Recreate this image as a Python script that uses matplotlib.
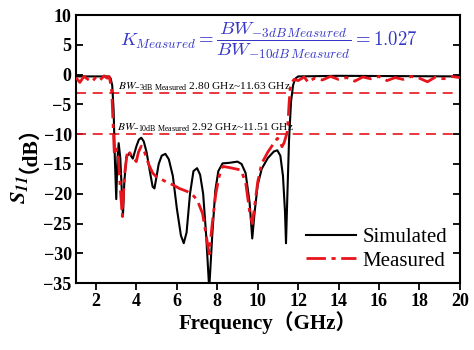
import numpy as np
import matplotlib
matplotlib.use("Agg")
import matplotlib.pyplot as plt

# ---- data ----
sim_f = [1.0, 2.0, 2.6, 2.72, 2.8, 2.87, 2.93, 3.0, 3.06, 3.12, 3.2, 3.28, 3.33, 3.4, 3.5,
         3.65, 3.82, 4.0, 4.12, 4.24, 4.36, 4.5, 4.65, 4.8, 4.89, 5.0, 5.1, 5.25, 5.43, 5.6,
         5.8, 6.0, 6.2, 6.34, 6.48, 6.65, 6.82, 7.0, 7.15, 7.3, 7.45, 7.6, 7.75, 7.9, 8.05,
         8.26, 8.6, 9.0, 9.2, 9.4, 9.6, 9.73, 9.85, 10.0, 10.2, 10.5, 10.8, 10.97, 11.12,
         11.25, 11.35, 11.4, 11.47, 11.55, 11.65, 11.75, 11.85, 12.0, 14.0, 20.0]
sim_db = [-0.3, -0.3, -0.3, -0.6, -1.8, -6.0, -14.0, -20.9, -14.0, -11.5, -14.0, -20.0,
          -23.8, -18.0, -13.8, -13.2, -14.1, -12.0, -10.9, -10.6, -11.2, -13.0, -16.0, -18.8,
          -19.1, -17.0, -15.0, -13.6, -13.3, -14.2, -17.0, -22.5, -27.0, -28.3, -26.5, -20.0,
          -16.2, -15.7, -16.8, -20.0, -27.0, -36.0, -27.0, -19.5, -16.2, -14.9, -14.8, -14.6,
          -15.0, -16.5, -21.5, -27.5, -23.0, -18.5, -15.8, -14.0, -12.9, -12.7, -13.6, -17.0,
          -23.0, -28.3, -20.0, -11.0, -4.5, -1.8, -0.7, -0.3, -0.2, -0.3]

meas_f = [1.0, 1.2, 1.4, 1.6, 1.8, 2.0, 2.2, 2.4, 2.55, 2.65, 2.72, 2.78, 2.84, 2.9, 2.95,
          3.02, 3.1, 3.2, 3.3, 3.4, 3.56, 3.75, 3.99, 4.1, 4.24, 4.4, 4.6, 4.8, 4.97, 5.2,
          5.47, 5.8, 6.12, 6.5, 6.78, 7.0, 7.27, 7.45, 7.6, 7.75, 7.93, 8.1, 8.26, 8.6, 9.16,
          9.4, 9.6, 9.73, 9.85, 10.0, 10.2, 10.5, 10.8, 10.97, 11.1, 11.2, 11.3, 11.45, 11.5,
          11.55, 11.6, 11.65, 11.8, 12.0, 12.3, 12.5, 12.8, 13.2, 13.6, 14.0, 14.4, 14.8, 15.2,
          15.6, 16.0, 16.4, 16.8, 17.2, 17.6, 18.0, 18.4, 18.8, 19.2, 19.6, 20.0]
meas_db = [-0.5, -1.3, -0.3, -0.8, -1.2, -0.4, -0.9, -0.2, -0.6, -0.3, -1.5, -3.0, -8.0,
           -13.0, -13.5, -12.5, -14.0, -19.0, -23.8, -17.0, -12.7, -13.5, -14.6, -13.0, -12.0,
           -13.0, -15.0, -16.5, -17.1, -17.5, -18.0, -18.5, -19.1, -19.6, -20.2, -21.0, -23.3,
           -27.0, -30.1, -25.0, -19.9, -17.0, -15.4, -15.6, -16.0, -18.0, -23.0, -25.0, -22.0,
           -18.0, -14.9, -13.0, -11.5, -10.7, -11.0, -12.1, -11.5, -9.8, -8.0, -5.0, -2.5, -1.5,
           -0.8, -1.0, -0.4, -1.3, -0.6, -0.9, -0.3, -0.8, -0.5, -1.1, -0.4, -0.7, -0.3, -1.0,
           -0.5, -0.8, -0.3, -0.6, -1.2, -0.4, -0.7, -0.3, -0.5]

ref_levels = [-3, -10]
annot_texts = [r"$BW_{\mathregular{-3dB\ Measured}}$ 2.80 GHz~11.63 GHz",
               r"$BW_{\mathregular{-10dB\ Measured}}$ 2.92 GHz~11.51 GHz"]
xticks = [2, 4, 6, 8, 10, 12, 14, 16, 18, 20]
yticks = [10, 5, 0, -5, -10, -15, -20, -25, -30, -35]

plt.rcParams['font.family'] = ['Liberation Serif', 'Noto Sans CJK SC']
plt.rcParams['mathtext.fontset'] = 'stix'

fig = plt.figure(figsize=(4.74, 3.5), dpi=100)
ax = fig.add_axes([0.160, 0.191, 0.810, 0.766])

ax.plot(sim_f, sim_db, color='black', lw=1.5, label='Simulated', zorder=3)
ax.plot(meas_f, meas_db, color='#e8141c', lw=2.0, ls=(0, (7, 2, 1.5, 2)), label='Measured', zorder=4)
for lv in ref_levels:
    ax.axhline(lv, color='#e8141c', lw=1.2, ls=(0, (6, 4)), zorder=2)

ax.text(3.07, -2.5, annot_texts[0], fontsize=8.2, family=['Liberation Serif'],
        math_fontfamily='stix', ha='left', va='baseline')
ax.text(3.02, -9.4, annot_texts[1], fontsize=8.2, family=['Liberation Serif'],
        math_fontfamily='stix', ha='left', va='baseline')

ax.text(10.56, 5.6,
        r"$K_{Measured} = \dfrac{BW_{-3dB\,Measured}}{BW_{-10dB\,Measured}} = 1.027$",
        fontsize=13.5, color='#3535c8', math_fontfamily='cm', ha='center', va='center')

ax.set_xlim(1, 20)
ax.set_ylim(-35, 10)
ax.set_xticks(xticks)
ax.set_yticks(yticks)
ax.tick_params(axis='x', direction='out', length=5, width=1.3, labelsize=13, pad=2)
ax.tick_params(axis='y', direction='in', length=5, width=1.3, labelsize=13, right=True, pad=3)
for lab in ax.get_xticklabels() + ax.get_yticklabels():
    lab.set_fontweight('bold')
for sp in ax.spines.values():
    sp.set_linewidth(1.5)

ax.set_xlabel("Frequency（GHz）", fontsize=15, fontweight='bold', labelpad=1)
# y label built from two pieces: mathtext S11 and plain "（dB）"
ax.text(-0.148, 0.405, r"$\mathbfit{S}_{\mathbfit{11}}$", transform=ax.transAxes,
        rotation=90, fontsize=16, ha='center', va='top')
ax.text(-0.150, 0.41, "（dB）", transform=ax.transAxes, rotation=90, fontsize=15.5,
        fontweight='bold', family=['Liberation Serif', 'Noto Sans CJK SC'],
        ha='center', va='bottom')

leg = ax.legend(loc='lower right', frameon=False, fontsize=15, handlelength=2.4,
                handletextpad=0.3, borderaxespad=0.2, labelspacing=0.2)

fig.savefig("out.png", dpi=100)
